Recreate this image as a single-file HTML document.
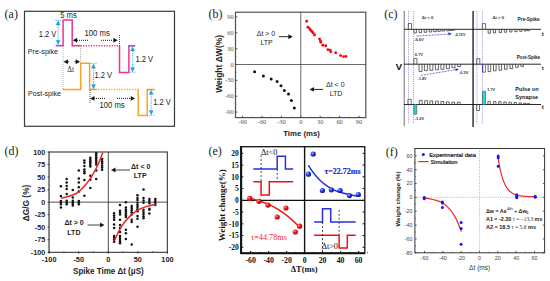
<!DOCTYPE html>
<html><head><meta charset="utf-8"><style>
html,body{margin:0;padding:0;background:#fff;}
body{width:550px;height:281px;overflow:hidden;font-family:"Liberation Sans",sans-serif;}
svg{display:block;}
</style></head><body>
<svg width="550" height="281" viewBox="0 0 550 281">
<rect width="550" height="281" fill="#fff"/>
<text x="4.60" y="17.50" font-family="Liberation Serif, serif" font-size="12" font-weight="normal" text-anchor="start" fill="#222" >(a)</text>
<rect x="24.50" y="11.30" width="150.00" height="115.00" stroke="#3a3a3a" stroke-width="1.2" fill="none"/>
<line x1="63.10" y1="46.00" x2="63.10" y2="90.00" stroke="#777" stroke-width="0.7" stroke-dasharray="0.8 1.2"/>
<line x1="80.50" y1="46.00" x2="80.50" y2="64.00" stroke="#777" stroke-width="0.7" stroke-dasharray="0.8 1.2"/>
<line x1="90.00" y1="90.00" x2="90.00" y2="104.00" stroke="#222" stroke-width="0.8" stroke-dasharray="1 1"/>
<line x1="119.50" y1="35.00" x2="119.50" y2="46.00" stroke="#222" stroke-width="0.8" stroke-dasharray="1 1"/>
<path d="M56,45.8 H63.1 V20 H72.2 V45.8 H80.5" stroke="#f3338b" stroke-width="1.5" fill="none" />
<line x1="80.50" y1="45.80" x2="119.50" y2="45.80" stroke="#f3338b" stroke-width="1.5" stroke-dasharray="1.3 1.3"/>
<path d="M119.5,45.8 V72.4 H128.9 V45.8 H135" stroke="#f3338b" stroke-width="1.5" fill="none" />
<path d="M62.5,89.4 H80.7 V63.2 H89.6 V89.4 H95.5" stroke="#fba424" stroke-width="1.5" fill="none" />
<line x1="95.50" y1="89.40" x2="138.20" y2="89.40" stroke="#fba424" stroke-width="1.5" stroke-dasharray="1.3 1.3"/>
<path d="M138.2,89.4 V115.5 H147.2 V89.4 H154.6" stroke="#fba424" stroke-width="1.5" fill="none" />
<line x1="58.10" y1="24.80" x2="58.10" y2="40.50" stroke="#1ba3e3" stroke-width="1.0" stroke-dasharray="1 1.2"/>
<path d="M55.9,25.1 L58.1,20.6 L60.300000000000004,25.1 Z" stroke="#1ba3e3" stroke-width="0.2" fill="#1ba3e3" />
<path d="M55.9,40.2 L58.1,44.7 L60.300000000000004,40.2 Z" stroke="#1ba3e3" stroke-width="0.2" fill="#1ba3e3" />
<line x1="54.10" y1="20.30" x2="61.10" y2="20.30" stroke="#1ba3e3" stroke-width="0.8" stroke-dasharray="1 1"/>
<line x1="54.10" y1="45.00" x2="61.10" y2="45.00" stroke="#1ba3e3" stroke-width="0.8" stroke-dasharray="1 1"/>
<line x1="93.50" y1="67.90" x2="93.50" y2="84.70" stroke="#1ba3e3" stroke-width="1.0" stroke-dasharray="1 1.2"/>
<path d="M91.3,68.2 L93.5,63.699999999999996 L95.7,68.2 Z" stroke="#1ba3e3" stroke-width="0.2" fill="#1ba3e3" />
<path d="M91.3,84.4 L93.5,88.9 L95.7,84.4 Z" stroke="#1ba3e3" stroke-width="0.2" fill="#1ba3e3" />
<line x1="89.50" y1="63.40" x2="96.50" y2="63.40" stroke="#1ba3e3" stroke-width="0.8" stroke-dasharray="1 1"/>
<line x1="89.50" y1="89.20" x2="96.50" y2="89.20" stroke="#1ba3e3" stroke-width="0.8" stroke-dasharray="1 1"/>
<line x1="132.60" y1="50.80" x2="132.60" y2="67.70" stroke="#1ba3e3" stroke-width="1.0" stroke-dasharray="1 1.2"/>
<path d="M130.4,51.099999999999994 L132.6,46.599999999999994 L134.79999999999998,51.099999999999994 Z" stroke="#1ba3e3" stroke-width="0.2" fill="#1ba3e3" />
<path d="M130.4,67.4 L132.6,71.9 L134.79999999999998,67.4 Z" stroke="#1ba3e3" stroke-width="0.2" fill="#1ba3e3" />
<line x1="128.60" y1="46.30" x2="135.60" y2="46.30" stroke="#1ba3e3" stroke-width="0.8" stroke-dasharray="1 1"/>
<line x1="128.60" y1="72.20" x2="135.60" y2="72.20" stroke="#1ba3e3" stroke-width="0.8" stroke-dasharray="1 1"/>
<line x1="151.20" y1="94.30" x2="151.20" y2="110.80" stroke="#1ba3e3" stroke-width="1.0" stroke-dasharray="1 1.2"/>
<path d="M149.0,94.6 L151.2,90.1 L153.39999999999998,94.6 Z" stroke="#1ba3e3" stroke-width="0.2" fill="#1ba3e3" />
<path d="M149.0,110.5 L151.2,115.0 L153.39999999999998,110.5 Z" stroke="#1ba3e3" stroke-width="0.2" fill="#1ba3e3" />
<line x1="147.20" y1="89.80" x2="154.20" y2="89.80" stroke="#1ba3e3" stroke-width="0.8" stroke-dasharray="1 1"/>
<line x1="147.20" y1="115.30" x2="154.20" y2="115.30" stroke="#1ba3e3" stroke-width="0.8" stroke-dasharray="1 1"/>
<path d="M73,40.3 L77,38.099999999999994 L77,42.5 Z" stroke="#111" stroke-width="0.2" fill="#111" />
<line x1="77.00" y1="40.30" x2="88.50" y2="40.30" stroke="#111" stroke-width="1" stroke-dasharray="1 1"/>
<line x1="101.00" y1="40.30" x2="113.50" y2="40.30" stroke="#111" stroke-width="1" stroke-dasharray="1 1"/>
<path d="M117.5,40.3 L113.5,38.099999999999994 L113.5,42.5 Z" stroke="#111" stroke-width="0.2" fill="#111" />
<path d="M90.3,98.4 L94.3,96.2 L94.3,100.60000000000001 Z" stroke="#111" stroke-width="0.2" fill="#111" />
<line x1="94.00" y1="98.40" x2="106.00" y2="98.40" stroke="#111" stroke-width="1" stroke-dasharray="1 1"/>
<line x1="117.00" y1="98.40" x2="131.00" y2="98.40" stroke="#111" stroke-width="1" stroke-dasharray="1 1"/>
<path d="M134.8,98.4 L130.8,96.2 L130.8,100.60000000000001 Z" stroke="#111" stroke-width="0.2" fill="#111" />
<path d="M63.8,61.8 L67.8,59.599999999999994 L67.8,64.0 Z" stroke="#111" stroke-width="0.2" fill="#111" />
<path d="M79.8,61.8 L75.8,59.599999999999994 L75.8,64.0 Z" stroke="#111" stroke-width="0.2" fill="#111" />
<line x1="67.00" y1="61.80" x2="69.00" y2="61.80" stroke="#111" stroke-width="0.8" />
<line x1="74.50" y1="61.80" x2="76.60" y2="61.80" stroke="#111" stroke-width="0.8" />
<text x="67.20" y="71.70" font-family="Liberation Serif, serif" font-size="7.3" font-weight="normal" text-anchor="start" fill="#222" >Δt</text>
<text x="60.20" y="18.30" font-family="Liberation Sans, sans-serif" font-size="8.4" font-weight="normal" text-anchor="start" fill="#222" textLength="16.6" lengthAdjust="spacingAndGlyphs">5 ms</text>
<text x="84.50" y="35.80" font-family="Liberation Sans, sans-serif" font-size="8.4" font-weight="normal" text-anchor="start" fill="#222" textLength="25.4" lengthAdjust="spacingAndGlyphs">100 ms</text>
<text x="99.60" y="107.80" font-family="Liberation Sans, sans-serif" font-size="8.4" font-weight="normal" text-anchor="start" fill="#222" textLength="25.0" lengthAdjust="spacingAndGlyphs">100 ms</text>
<text x="38.80" y="36.60" font-family="Liberation Sans, sans-serif" font-size="8.5" font-weight="normal" text-anchor="start" fill="#222" textLength="17.6" lengthAdjust="spacingAndGlyphs">1.2 V</text>
<text x="94.50" y="77.50" font-family="Liberation Sans, sans-serif" font-size="8.5" font-weight="normal" text-anchor="start" fill="#222" textLength="17.6" lengthAdjust="spacingAndGlyphs">1.2 V</text>
<text x="135.50" y="61.70" font-family="Liberation Sans, sans-serif" font-size="8.5" font-weight="normal" text-anchor="start" fill="#222" textLength="17.6" lengthAdjust="spacingAndGlyphs">1.2 V</text>
<text x="153.20" y="104.90" font-family="Liberation Sans, sans-serif" font-size="8.5" font-weight="normal" text-anchor="start" fill="#222" textLength="17.6" lengthAdjust="spacingAndGlyphs">1.2 V</text>
<text x="27.80" y="53.50" font-family="Liberation Sans, sans-serif" font-size="7.2" font-weight="normal" text-anchor="start" fill="#222" textLength="30.2" lengthAdjust="spacingAndGlyphs">Pre-spike</text>
<text x="28.00" y="95.80" font-family="Liberation Sans, sans-serif" font-size="7.2" font-weight="normal" text-anchor="start" fill="#222" textLength="33" lengthAdjust="spacingAndGlyphs">Post-spike</text>
<text x="208.40" y="17.50" font-family="Liberation Serif, serif" font-size="12" font-weight="normal" text-anchor="start" fill="#222" >(b)</text>
<rect x="235.50" y="12.20" width="130.30" height="105.40" stroke="#505050" stroke-width="1.2" fill="none"/>
<line x1="300.80" y1="12.20" x2="300.80" y2="117.60" stroke="#444" stroke-width="0.8" />
<line x1="235.50" y1="64.50" x2="365.80" y2="64.50" stroke="#444" stroke-width="0.8" />
<line x1="235.50" y1="112.05" x2="237.30" y2="112.05" stroke="#444" stroke-width="0.8" />
<text x="233.60" y="114.15" font-family="Liberation Serif, serif" font-size="6.3" font-weight="normal" text-anchor="end" fill="#555" >-90</text>
<line x1="235.50" y1="96.20" x2="237.30" y2="96.20" stroke="#444" stroke-width="0.8" />
<text x="233.60" y="98.30" font-family="Liberation Serif, serif" font-size="6.3" font-weight="normal" text-anchor="end" fill="#555" >-60</text>
<line x1="235.50" y1="80.35" x2="237.30" y2="80.35" stroke="#444" stroke-width="0.8" />
<text x="233.60" y="82.45" font-family="Liberation Serif, serif" font-size="6.3" font-weight="normal" text-anchor="end" fill="#555" >-30</text>
<line x1="235.50" y1="64.50" x2="237.30" y2="64.50" stroke="#444" stroke-width="0.8" />
<text x="233.60" y="66.60" font-family="Liberation Serif, serif" font-size="6.3" font-weight="normal" text-anchor="end" fill="#555" >0</text>
<line x1="235.50" y1="48.65" x2="237.30" y2="48.65" stroke="#444" stroke-width="0.8" />
<text x="233.60" y="50.75" font-family="Liberation Serif, serif" font-size="6.3" font-weight="normal" text-anchor="end" fill="#555" >30</text>
<line x1="235.50" y1="32.80" x2="237.30" y2="32.80" stroke="#444" stroke-width="0.8" />
<text x="233.60" y="34.90" font-family="Liberation Serif, serif" font-size="6.3" font-weight="normal" text-anchor="end" fill="#555" >60</text>
<line x1="235.50" y1="16.95" x2="237.30" y2="16.95" stroke="#444" stroke-width="0.8" />
<text x="233.60" y="19.05" font-family="Liberation Serif, serif" font-size="6.3" font-weight="normal" text-anchor="end" fill="#555" >90</text>
<line x1="235.50" y1="112.05" x2="236.50" y2="112.05" stroke="#444" stroke-width="0.6" />
<line x1="235.50" y1="104.12" x2="236.50" y2="104.12" stroke="#444" stroke-width="0.6" />
<line x1="235.50" y1="96.20" x2="236.50" y2="96.20" stroke="#444" stroke-width="0.6" />
<line x1="235.50" y1="88.28" x2="236.50" y2="88.28" stroke="#444" stroke-width="0.6" />
<line x1="235.50" y1="80.35" x2="236.50" y2="80.35" stroke="#444" stroke-width="0.6" />
<line x1="235.50" y1="72.42" x2="236.50" y2="72.42" stroke="#444" stroke-width="0.6" />
<line x1="235.50" y1="64.50" x2="236.50" y2="64.50" stroke="#444" stroke-width="0.6" />
<line x1="235.50" y1="56.58" x2="236.50" y2="56.58" stroke="#444" stroke-width="0.6" />
<line x1="235.50" y1="48.65" x2="236.50" y2="48.65" stroke="#444" stroke-width="0.6" />
<line x1="235.50" y1="40.73" x2="236.50" y2="40.73" stroke="#444" stroke-width="0.6" />
<line x1="235.50" y1="32.80" x2="236.50" y2="32.80" stroke="#444" stroke-width="0.6" />
<line x1="235.50" y1="24.88" x2="236.50" y2="24.88" stroke="#444" stroke-width="0.6" />
<line x1="235.50" y1="16.95" x2="236.50" y2="16.95" stroke="#444" stroke-width="0.6" />
<line x1="242.60" y1="117.60" x2="242.60" y2="115.80" stroke="#444" stroke-width="0.8" />
<text x="242.60" y="123.90" font-family="Liberation Serif, serif" font-size="6.3" font-weight="normal" text-anchor="middle" fill="#555" >-90</text>
<line x1="262.00" y1="117.60" x2="262.00" y2="115.80" stroke="#444" stroke-width="0.8" />
<text x="262.00" y="123.90" font-family="Liberation Serif, serif" font-size="6.3" font-weight="normal" text-anchor="middle" fill="#555" >-60</text>
<line x1="281.40" y1="117.60" x2="281.40" y2="115.80" stroke="#444" stroke-width="0.8" />
<text x="281.40" y="123.90" font-family="Liberation Serif, serif" font-size="6.3" font-weight="normal" text-anchor="middle" fill="#555" >-30</text>
<line x1="300.80" y1="117.60" x2="300.80" y2="115.80" stroke="#444" stroke-width="0.8" />
<text x="300.80" y="123.90" font-family="Liberation Serif, serif" font-size="6.3" font-weight="normal" text-anchor="middle" fill="#555" >0</text>
<line x1="320.20" y1="117.60" x2="320.20" y2="115.80" stroke="#444" stroke-width="0.8" />
<text x="320.20" y="123.90" font-family="Liberation Serif, serif" font-size="6.3" font-weight="normal" text-anchor="middle" fill="#555" >30</text>
<line x1="339.60" y1="117.60" x2="339.60" y2="115.80" stroke="#444" stroke-width="0.8" />
<text x="339.60" y="123.90" font-family="Liberation Serif, serif" font-size="6.3" font-weight="normal" text-anchor="middle" fill="#555" >60</text>
<line x1="359.00" y1="117.60" x2="359.00" y2="115.80" stroke="#444" stroke-width="0.8" />
<text x="359.00" y="123.90" font-family="Liberation Serif, serif" font-size="6.3" font-weight="normal" text-anchor="middle" fill="#555" >90</text>
<line x1="242.60" y1="117.60" x2="242.60" y2="116.60" stroke="#444" stroke-width="0.6" />
<line x1="252.30" y1="117.60" x2="252.30" y2="116.60" stroke="#444" stroke-width="0.6" />
<line x1="262.00" y1="117.60" x2="262.00" y2="116.60" stroke="#444" stroke-width="0.6" />
<line x1="271.70" y1="117.60" x2="271.70" y2="116.60" stroke="#444" stroke-width="0.6" />
<line x1="281.40" y1="117.60" x2="281.40" y2="116.60" stroke="#444" stroke-width="0.6" />
<line x1="291.10" y1="117.60" x2="291.10" y2="116.60" stroke="#444" stroke-width="0.6" />
<line x1="300.80" y1="117.60" x2="300.80" y2="116.60" stroke="#444" stroke-width="0.6" />
<line x1="310.50" y1="117.60" x2="310.50" y2="116.60" stroke="#444" stroke-width="0.6" />
<line x1="320.20" y1="117.60" x2="320.20" y2="116.60" stroke="#444" stroke-width="0.6" />
<line x1="329.90" y1="117.60" x2="329.90" y2="116.60" stroke="#444" stroke-width="0.6" />
<line x1="339.60" y1="117.60" x2="339.60" y2="116.60" stroke="#444" stroke-width="0.6" />
<line x1="349.30" y1="117.60" x2="349.30" y2="116.60" stroke="#444" stroke-width="0.6" />
<line x1="359.00" y1="117.60" x2="359.00" y2="116.60" stroke="#444" stroke-width="0.6" />
<text x="283.20" y="135.70" font-family="Liberation Sans, sans-serif" font-size="7.8" font-weight="bold" text-anchor="start" fill="#222" >Time (ms)</text>
<text x="0.00" y="0.00" font-family="Liberation Sans, sans-serif" font-size="8.5" font-weight="bold" text-anchor="middle" fill="#222" transform="translate(222.3,63.85) rotate(-90)">Weight ΔW(%)</text>
<circle cx="306.70" cy="21.20" r="1.45" fill="#f01010" />
<circle cx="307.90" cy="27.20" r="1.45" fill="#f01010" />
<circle cx="309.50" cy="28.60" r="1.45" fill="#f01010" />
<circle cx="310.70" cy="30.20" r="1.45" fill="#f01010" />
<circle cx="311.80" cy="31.50" r="1.45" fill="#f01010" />
<circle cx="313.20" cy="32.90" r="1.45" fill="#f01010" />
<circle cx="314.60" cy="35.00" r="1.45" fill="#f01010" />
<circle cx="319.50" cy="39.00" r="1.45" fill="#f01010" />
<circle cx="320.50" cy="41.00" r="1.45" fill="#f01010" />
<circle cx="320.80" cy="42.30" r="1.45" fill="#f01010" />
<circle cx="322.80" cy="45.20" r="1.45" fill="#f01010" />
<circle cx="325.70" cy="45.80" r="1.45" fill="#f01010" />
<circle cx="327.90" cy="49.70" r="1.45" fill="#f01010" />
<circle cx="330.20" cy="50.10" r="1.45" fill="#f01010" />
<circle cx="330.80" cy="51.70" r="1.45" fill="#f01010" />
<circle cx="335.70" cy="52.70" r="1.45" fill="#f01010" />
<circle cx="340.60" cy="55.60" r="1.45" fill="#f01010" />
<circle cx="343.60" cy="56.60" r="1.45" fill="#f01010" />
<circle cx="345.90" cy="56.40" r="1.45" fill="#f01010" />
<circle cx="254.60" cy="71.70" r="1.5" fill="#111" />
<circle cx="263.40" cy="76.00" r="1.5" fill="#111" />
<circle cx="271.20" cy="79.00" r="1.5" fill="#111" />
<circle cx="277.10" cy="81.50" r="1.5" fill="#111" />
<circle cx="281.00" cy="85.80" r="1.5" fill="#111" />
<circle cx="284.30" cy="90.40" r="1.5" fill="#111" />
<circle cx="288.50" cy="93.90" r="1.5" fill="#111" />
<circle cx="291.40" cy="100.50" r="1.5" fill="#111" />
<circle cx="294.30" cy="108.00" r="1.5" fill="#111" />
<text x="266.00" y="35.70" font-family="Liberation Sans, sans-serif" font-size="7" font-weight="normal" text-anchor="middle" fill="#222" >Δt &gt; 0</text>
<text x="266.60" y="44.80" font-family="Liberation Sans, sans-serif" font-size="7" font-weight="normal" text-anchor="middle" fill="#222" >LTP</text>
<line x1="279.00" y1="36.70" x2="290.00" y2="36.70" stroke="#111" stroke-width="0.9" />
<path d="M292.5,36.7 L288.5,34.5 L288.5,38.900000000000006 Z" stroke="#111" stroke-width="0.2" fill="#111" />
<text x="335.30" y="86.90" font-family="Liberation Sans, sans-serif" font-size="7" font-weight="normal" text-anchor="middle" fill="#222" >Δt &lt; 0</text>
<text x="336.00" y="96.30" font-family="Liberation Sans, sans-serif" font-size="7" font-weight="normal" text-anchor="middle" fill="#222" >LTD</text>
<line x1="312.50" y1="89.40" x2="323.00" y2="89.40" stroke="#111" stroke-width="0.9" />
<path d="M309.8,89.4 L313.8,87.2 L313.8,91.60000000000001 Z" stroke="#111" stroke-width="0.2" fill="#111" />
<text x="384.20" y="17.60" font-family="Liberation Serif, serif" font-size="12" font-weight="normal" text-anchor="start" fill="#222" >(c)</text>
<line x1="404.30" y1="10.70" x2="404.30" y2="126.30" stroke="#999" stroke-width="1.4" />
<line x1="473.10" y1="11.00" x2="473.10" y2="127.00" stroke="#555" stroke-width="1.8" />
<line x1="408.50" y1="11.00" x2="408.50" y2="123.50" stroke="#5a5ad8" stroke-width="0.7" stroke-dasharray="0.8 1"/>
<line x1="413.60" y1="11.00" x2="413.60" y2="123.50" stroke="#5a5ad8" stroke-width="0.7" stroke-dasharray="0.8 1"/>
<line x1="477.00" y1="11.00" x2="477.00" y2="123.50" stroke="#5a5ad8" stroke-width="0.7" stroke-dasharray="0.8 1"/>
<line x1="482.40" y1="11.00" x2="482.40" y2="123.50" stroke="#5a5ad8" stroke-width="0.7" stroke-dasharray="0.8 1"/>
<line x1="404.00" y1="29.30" x2="541.00" y2="29.30" stroke="#111" stroke-width="0.9" />
<line x1="404.00" y1="64.20" x2="541.00" y2="64.20" stroke="#111" stroke-width="0.9" />
<line x1="404.00" y1="104.50" x2="541.00" y2="104.50" stroke="#111" stroke-width="0.9" />
<text x="541.80" y="35.90" font-family="Liberation Sans, sans-serif" font-size="6.2" font-weight="bold" text-anchor="start" fill="#222" >t</text>
<text x="541.80" y="70.00" font-family="Liberation Sans, sans-serif" font-size="6.2" font-weight="bold" text-anchor="start" fill="#222" >t</text>
<text x="541.80" y="108.70" font-family="Liberation Sans, sans-serif" font-size="6.2" font-weight="bold" text-anchor="start" fill="#222" >t</text>
<text x="399.00" y="69.80" font-family="Liberation Sans, sans-serif" font-size="9.5" font-weight="bold" text-anchor="middle" fill="#111" >V</text>
<path d="M408.30,29.3 V23.50 H411.50 V29.3" stroke="#333" stroke-width="0.7" fill="none" />
<path d="M413.90,29.3 V32.90 H416.40 V29.3" stroke="#333" stroke-width="0.75" fill="none" />
<path d="M419.10,29.3 V32.60 H421.60 V29.3" stroke="#333" stroke-width="0.75" fill="none" />
<path d="M424.20,29.3 V32.30 H426.70 V29.3" stroke="#333" stroke-width="0.75" fill="none" />
<path d="M429.20,29.3 V32.00 H431.70 V29.3" stroke="#333" stroke-width="0.75" fill="none" />
<path d="M433.70,29.3 V31.70 H436.20 V29.3" stroke="#333" stroke-width="0.75" fill="none" />
<path d="M437.80,29.3 V31.40 H440.30 V29.3" stroke="#333" stroke-width="0.75" fill="none" />
<path d="M441.90,29.3 V31.10 H444.40 V29.3" stroke="#333" stroke-width="0.75" fill="none" />
<path d="M446.40,29.3 V30.80 H448.90 V29.3" stroke="#333" stroke-width="0.75" fill="none" />
<path d="M449.60,29.3 V30.50 H452.10 V29.3" stroke="#333" stroke-width="0.75" fill="none" />
<path d="M452.40,29.3 V30.20 H454.90 V29.3" stroke="#333" stroke-width="0.75" fill="none" />
<path d="M482.40,29.3 V23.60 H485.60 V29.3" stroke="#333" stroke-width="0.7" fill="none" />
<path d="M488.10,29.3 V33.20 H490.40 V29.3" stroke="#333" stroke-width="0.75" fill="none" />
<path d="M493.30,29.3 V32.89 H495.60 V29.3" stroke="#333" stroke-width="0.75" fill="none" />
<path d="M499.20,29.3 V32.58 H501.50 V29.3" stroke="#333" stroke-width="0.75" fill="none" />
<path d="M504.30,29.3 V32.26 H506.60 V29.3" stroke="#333" stroke-width="0.75" fill="none" />
<path d="M509.70,29.3 V31.95 H512.00 V29.3" stroke="#333" stroke-width="0.75" fill="none" />
<path d="M514.80,29.3 V31.64 H517.10 V29.3" stroke="#333" stroke-width="0.75" fill="none" />
<path d="M519.70,29.3 V31.32 H522.00 V29.3" stroke="#333" stroke-width="0.75" fill="none" />
<path d="M524.10,29.3 V31.01 H526.40 V29.3" stroke="#333" stroke-width="0.75" fill="none" />
<path d="M527.40,29.3 V30.70 H529.70 V29.3" stroke="#333" stroke-width="0.75" fill="none" />
<path d="M413.90,64.2 V58.40 H416.90 V64.2" stroke="#333" stroke-width="0.7" fill="none" />
<path d="M419.00,64.2 V71.40 H422.00 V64.2" stroke="#333" stroke-width="0.75" fill="none" />
<path d="M424.40,64.2 V70.60 H427.40 V64.2" stroke="#333" stroke-width="0.75" fill="none" />
<path d="M429.90,64.2 V70.30 H432.90 V64.2" stroke="#333" stroke-width="0.75" fill="none" />
<path d="M435.40,64.2 V69.80 H438.40 V64.2" stroke="#333" stroke-width="0.75" fill="none" />
<path d="M440.90,64.2 V69.30 H443.90 V64.2" stroke="#333" stroke-width="0.75" fill="none" />
<path d="M446.40,64.2 V68.70 H449.40 V64.2" stroke="#333" stroke-width="0.75" fill="none" />
<path d="M452.00,64.2 V67.70 H455.00 V64.2" stroke="#333" stroke-width="0.75" fill="none" />
<path d="M457.60,64.2 V66.60 H460.60 V64.2" stroke="#333" stroke-width="0.75" fill="none" />
<path d="M476.70,64.2 V58.60 H479.80 V64.2" stroke="#333" stroke-width="0.7" fill="none" />
<path d="M482.60,64.2 V72.20 H485.40 V64.2" stroke="#555" stroke-width="0.8" fill="none" />
<line x1="482.60" y1="64.20" x2="482.60" y2="72.20" stroke="#3a3ab0" stroke-width="1.0" />
<path d="M488.10,64.2 V71.60 H490.70 V64.2" stroke="#333" stroke-width="0.75" fill="none" />
<path d="M493.50,64.2 V70.80 H496.10 V64.2" stroke="#333" stroke-width="0.75" fill="none" />
<path d="M499.00,64.2 V70.30 H501.60 V64.2" stroke="#333" stroke-width="0.75" fill="none" />
<path d="M504.50,64.2 V69.20 H507.10 V64.2" stroke="#333" stroke-width="0.75" fill="none" />
<path d="M510.00,64.2 V68.60 H512.60 V64.2" stroke="#333" stroke-width="0.75" fill="none" />
<path d="M515.60,64.2 V67.30 H518.20 V64.2" stroke="#333" stroke-width="0.75" fill="none" />
<path d="M520.90,64.2 V66.40 H523.50 V64.2" stroke="#333" stroke-width="0.75" fill="none" />
<path d="M407.90,104.5 V99.40 H411.20 V104.5" stroke="#333" stroke-width="0.7" fill="none" />
<path d="M413.90,104.5 V114.30 H416.70 V104.5" stroke="#444" stroke-width="0.6" fill="#16e0e8" />
<path d="M419.30,104.5 V100.30 H422.10 V104.5" stroke="#333" stroke-width="0.75" fill="none" />
<path d="M424.70,104.5 V100.70 H427.50 V104.5" stroke="#333" stroke-width="0.75" fill="none" />
<path d="M429.90,104.5 V100.90 H432.70 V104.5" stroke="#333" stroke-width="0.75" fill="none" />
<path d="M435.50,104.5 V101.20 H438.30 V104.5" stroke="#333" stroke-width="0.75" fill="none" />
<path d="M440.90,104.5 V101.50 H443.70 V104.5" stroke="#333" stroke-width="0.75" fill="none" />
<path d="M446.40,104.5 V101.90 H449.20 V104.5" stroke="#333" stroke-width="0.75" fill="none" />
<path d="M451.80,104.5 V102.20 H454.60 V104.5" stroke="#333" stroke-width="0.75" fill="none" />
<path d="M457.30,104.5 V102.20 H460.10 V104.5" stroke="#333" stroke-width="0.75" fill="none" />
<path d="M476.60,104.5 V110.50 H479.50 V104.5" stroke="#333" stroke-width="0.7" fill="none" />
<path d="M482.50,104.5 V91.40 H485.50 V104.5" stroke="#444" stroke-width="0.6" fill="#16e0e8" />
<path d="M487.90,104.5 V101.30 H490.30 V104.5" stroke="#333" stroke-width="0.75" fill="none" />
<path d="M493.50,104.5 V101.50 H495.90 V104.5" stroke="#333" stroke-width="0.75" fill="none" />
<path d="M498.70,104.5 V101.70 H501.10 V104.5" stroke="#333" stroke-width="0.75" fill="none" />
<path d="M503.80,104.5 V102.00 H506.20 V104.5" stroke="#333" stroke-width="0.75" fill="none" />
<path d="M508.90,104.5 V102.30 H511.30 V104.5" stroke="#333" stroke-width="0.75" fill="none" />
<path d="M514.00,104.5 V102.50 H516.40 V104.5" stroke="#333" stroke-width="0.75" fill="none" />
<path d="M519.00,104.5 V102.90 H521.40 V104.5" stroke="#333" stroke-width="0.75" fill="none" />
<path d="M523.60,104.5 V103.30 H526.00 V104.5" stroke="#333" stroke-width="0.75" fill="none" />
<path d="M527.40,104.5 V103.60 H529.80 V104.5" stroke="#333" stroke-width="0.75" fill="none" />
<line x1="416.50" y1="36.10" x2="449.50" y2="34.00" stroke="#4646d2" stroke-width="0.75" stroke-dasharray="2 1"/>
<path d="M451.6,33.8 L448.4,32.6 L448.7,35.2 Z" stroke="#2020d0" stroke-width="0.2" fill="#2020d0" />
<line x1="420.80" y1="75.40" x2="456.50" y2="69.60" stroke="#4646d2" stroke-width="0.75" stroke-dasharray="2 1"/>
<path d="M458.6,69.2 L455.4,68.4 L455.9,71 Z" stroke="#2020d0" stroke-width="0.2" fill="#2020d0" />
<text x="421.80" y="19.45" font-family="Liberation Sans, sans-serif" font-size="4.2" font-weight="bold" text-anchor="start" fill="#333" >Δt &lt; 0</text>
<text x="492.50" y="19.25" font-family="Liberation Sans, sans-serif" font-size="4.2" font-weight="bold" text-anchor="start" fill="#333" >Δt &gt; 0</text>
<text x="414.20" y="41.25" font-family="Liberation Sans, sans-serif" font-size="4.0" font-weight="bold" text-anchor="start" fill="#333" >-6.6V</text>
<text x="454.50" y="35.95" font-family="Liberation Sans, sans-serif" font-size="3.7" font-weight="bold" text-anchor="start" fill="#333" >-0.15V</text>
<text x="414.80" y="55.55" font-family="Liberation Sans, sans-serif" font-size="4.0" font-weight="bold" text-anchor="start" fill="#333" >0.7V</text>
<text x="417.70" y="79.55" font-family="Liberation Sans, sans-serif" font-size="3.7" font-weight="bold" text-anchor="start" fill="#333" >-1.8V</text>
<text x="458.90" y="73.65" font-family="Liberation Sans, sans-serif" font-size="4.0" font-weight="bold" text-anchor="start" fill="#333" >-0.3V</text>
<text x="487.20" y="91.25" font-family="Liberation Sans, sans-serif" font-size="3.9" font-weight="bold" text-anchor="start" fill="#333" >1.7V</text>
<text x="414.70" y="120.05" font-family="Liberation Sans, sans-serif" font-size="4.0" font-weight="bold" text-anchor="start" fill="#333" >-1.2V</text>
<text x="528.60" y="21.00" font-family="Liberation Sans, sans-serif" font-size="5.3" font-weight="bold" text-anchor="middle" fill="#222" textLength="22" lengthAdjust="spacingAndGlyphs">Pre-Spike</text>
<text x="528.40" y="58.50" font-family="Liberation Sans, sans-serif" font-size="5.3" font-weight="bold" text-anchor="middle" fill="#222" textLength="23.5" lengthAdjust="spacingAndGlyphs">Post-Spike</text>
<text x="527.00" y="91.40" font-family="Liberation Sans, sans-serif" font-size="5.6" font-weight="bold" text-anchor="middle" fill="#222" >Pulse on</text>
<text x="526.70" y="98.60" font-family="Liberation Sans, sans-serif" font-size="5.6" font-weight="bold" text-anchor="middle" fill="#222" >Synapse</text>
<text x="4.40" y="155.20" font-family="Liberation Serif, serif" font-size="12" font-weight="normal" text-anchor="start" fill="#222" >(d)</text>
<rect x="49.00" y="152.00" width="118.30" height="100.30" stroke="#222" stroke-width="1" fill="none"/>
<line x1="108.30" y1="152.00" x2="108.30" y2="252.30" stroke="#222" stroke-width="0.8" />
<line x1="49.00" y1="202.15" x2="167.30" y2="202.15" stroke="#222" stroke-width="0.8" />
<line x1="47.50" y1="252.30" x2="49.00" y2="252.30" stroke="#222" stroke-width="0.8" />
<text x="45.20" y="254.85" font-family="Liberation Sans, sans-serif" font-size="7.2" font-weight="bold" text-anchor="end" fill="#222" >-100</text>
<line x1="47.50" y1="239.76" x2="49.00" y2="239.76" stroke="#222" stroke-width="0.8" />
<text x="45.20" y="242.31" font-family="Liberation Sans, sans-serif" font-size="7.2" font-weight="bold" text-anchor="end" fill="#222" >-75</text>
<line x1="47.50" y1="227.22" x2="49.00" y2="227.22" stroke="#222" stroke-width="0.8" />
<text x="45.20" y="229.78" font-family="Liberation Sans, sans-serif" font-size="7.2" font-weight="bold" text-anchor="end" fill="#222" >-50</text>
<line x1="47.50" y1="214.69" x2="49.00" y2="214.69" stroke="#222" stroke-width="0.8" />
<text x="45.20" y="217.24" font-family="Liberation Sans, sans-serif" font-size="7.2" font-weight="bold" text-anchor="end" fill="#222" >-25</text>
<line x1="47.50" y1="202.15" x2="49.00" y2="202.15" stroke="#222" stroke-width="0.8" />
<text x="45.20" y="204.70" font-family="Liberation Sans, sans-serif" font-size="7.2" font-weight="bold" text-anchor="end" fill="#222" >0</text>
<line x1="47.50" y1="189.61" x2="49.00" y2="189.61" stroke="#222" stroke-width="0.8" />
<text x="45.20" y="192.16" font-family="Liberation Sans, sans-serif" font-size="7.2" font-weight="bold" text-anchor="end" fill="#222" >25</text>
<line x1="47.50" y1="177.08" x2="49.00" y2="177.08" stroke="#222" stroke-width="0.8" />
<text x="45.20" y="179.63" font-family="Liberation Sans, sans-serif" font-size="7.2" font-weight="bold" text-anchor="end" fill="#222" >50</text>
<line x1="47.50" y1="164.54" x2="49.00" y2="164.54" stroke="#222" stroke-width="0.8" />
<text x="45.20" y="167.09" font-family="Liberation Sans, sans-serif" font-size="7.2" font-weight="bold" text-anchor="end" fill="#222" >75</text>
<line x1="47.50" y1="152.00" x2="49.00" y2="152.00" stroke="#222" stroke-width="0.8" />
<text x="45.20" y="154.55" font-family="Liberation Sans, sans-serif" font-size="7.2" font-weight="bold" text-anchor="end" fill="#222" >100</text>
<line x1="49.00" y1="252.30" x2="49.90" y2="252.30" stroke="#222" stroke-width="0.5" />
<line x1="49.00" y1="249.79" x2="49.90" y2="249.79" stroke="#222" stroke-width="0.5" />
<line x1="49.00" y1="247.28" x2="49.90" y2="247.28" stroke="#222" stroke-width="0.5" />
<line x1="49.00" y1="244.78" x2="49.90" y2="244.78" stroke="#222" stroke-width="0.5" />
<line x1="49.00" y1="242.27" x2="49.90" y2="242.27" stroke="#222" stroke-width="0.5" />
<line x1="49.00" y1="239.76" x2="49.90" y2="239.76" stroke="#222" stroke-width="0.5" />
<line x1="49.00" y1="237.25" x2="49.90" y2="237.25" stroke="#222" stroke-width="0.5" />
<line x1="49.00" y1="234.75" x2="49.90" y2="234.75" stroke="#222" stroke-width="0.5" />
<line x1="49.00" y1="232.24" x2="49.90" y2="232.24" stroke="#222" stroke-width="0.5" />
<line x1="49.00" y1="229.73" x2="49.90" y2="229.73" stroke="#222" stroke-width="0.5" />
<line x1="49.00" y1="227.22" x2="49.90" y2="227.22" stroke="#222" stroke-width="0.5" />
<line x1="49.00" y1="224.72" x2="49.90" y2="224.72" stroke="#222" stroke-width="0.5" />
<line x1="49.00" y1="222.21" x2="49.90" y2="222.21" stroke="#222" stroke-width="0.5" />
<line x1="49.00" y1="219.70" x2="49.90" y2="219.70" stroke="#222" stroke-width="0.5" />
<line x1="49.00" y1="217.19" x2="49.90" y2="217.19" stroke="#222" stroke-width="0.5" />
<line x1="49.00" y1="214.69" x2="49.90" y2="214.69" stroke="#222" stroke-width="0.5" />
<line x1="49.00" y1="212.18" x2="49.90" y2="212.18" stroke="#222" stroke-width="0.5" />
<line x1="49.00" y1="209.67" x2="49.90" y2="209.67" stroke="#222" stroke-width="0.5" />
<line x1="49.00" y1="207.16" x2="49.90" y2="207.16" stroke="#222" stroke-width="0.5" />
<line x1="49.00" y1="204.66" x2="49.90" y2="204.66" stroke="#222" stroke-width="0.5" />
<line x1="49.00" y1="202.15" x2="49.90" y2="202.15" stroke="#222" stroke-width="0.5" />
<line x1="49.00" y1="199.64" x2="49.90" y2="199.64" stroke="#222" stroke-width="0.5" />
<line x1="49.00" y1="197.14" x2="49.90" y2="197.14" stroke="#222" stroke-width="0.5" />
<line x1="49.00" y1="194.63" x2="49.90" y2="194.63" stroke="#222" stroke-width="0.5" />
<line x1="49.00" y1="192.12" x2="49.90" y2="192.12" stroke="#222" stroke-width="0.5" />
<line x1="49.00" y1="189.61" x2="49.90" y2="189.61" stroke="#222" stroke-width="0.5" />
<line x1="49.00" y1="187.11" x2="49.90" y2="187.11" stroke="#222" stroke-width="0.5" />
<line x1="49.00" y1="184.60" x2="49.90" y2="184.60" stroke="#222" stroke-width="0.5" />
<line x1="49.00" y1="182.09" x2="49.90" y2="182.09" stroke="#222" stroke-width="0.5" />
<line x1="49.00" y1="179.58" x2="49.90" y2="179.58" stroke="#222" stroke-width="0.5" />
<line x1="49.00" y1="177.08" x2="49.90" y2="177.08" stroke="#222" stroke-width="0.5" />
<line x1="49.00" y1="174.57" x2="49.90" y2="174.57" stroke="#222" stroke-width="0.5" />
<line x1="49.00" y1="172.06" x2="49.90" y2="172.06" stroke="#222" stroke-width="0.5" />
<line x1="49.00" y1="169.55" x2="49.90" y2="169.55" stroke="#222" stroke-width="0.5" />
<line x1="49.00" y1="167.05" x2="49.90" y2="167.05" stroke="#222" stroke-width="0.5" />
<line x1="49.00" y1="164.54" x2="49.90" y2="164.54" stroke="#222" stroke-width="0.5" />
<line x1="49.00" y1="162.03" x2="49.90" y2="162.03" stroke="#222" stroke-width="0.5" />
<line x1="49.00" y1="159.52" x2="49.90" y2="159.52" stroke="#222" stroke-width="0.5" />
<line x1="49.00" y1="157.02" x2="49.90" y2="157.02" stroke="#222" stroke-width="0.5" />
<line x1="49.00" y1="154.51" x2="49.90" y2="154.51" stroke="#222" stroke-width="0.5" />
<line x1="49.00" y1="152.00" x2="49.90" y2="152.00" stroke="#222" stroke-width="0.5" />
<line x1="49.15" y1="252.30" x2="49.15" y2="253.80" stroke="#222" stroke-width="0.8" />
<text x="49.15" y="262.00" font-family="Liberation Sans, sans-serif" font-size="7.3" font-weight="bold" text-anchor="middle" fill="#222" >-100</text>
<line x1="78.72" y1="252.30" x2="78.72" y2="253.80" stroke="#222" stroke-width="0.8" />
<text x="78.72" y="262.00" font-family="Liberation Sans, sans-serif" font-size="7.3" font-weight="bold" text-anchor="middle" fill="#222" >-50</text>
<line x1="108.30" y1="252.30" x2="108.30" y2="253.80" stroke="#222" stroke-width="0.8" />
<text x="108.30" y="262.00" font-family="Liberation Sans, sans-serif" font-size="7.3" font-weight="bold" text-anchor="middle" fill="#222" >0</text>
<line x1="137.88" y1="252.30" x2="137.88" y2="253.80" stroke="#222" stroke-width="0.8" />
<text x="137.88" y="262.00" font-family="Liberation Sans, sans-serif" font-size="7.3" font-weight="bold" text-anchor="middle" fill="#222" >50</text>
<line x1="167.45" y1="252.30" x2="167.45" y2="253.80" stroke="#222" stroke-width="0.8" />
<text x="167.45" y="262.00" font-family="Liberation Sans, sans-serif" font-size="7.3" font-weight="bold" text-anchor="middle" fill="#222" >100</text>
<line x1="49.15" y1="252.30" x2="49.15" y2="251.10" stroke="#222" stroke-width="0.6" />
<line x1="63.94" y1="252.30" x2="63.94" y2="251.10" stroke="#222" stroke-width="0.6" />
<line x1="78.72" y1="252.30" x2="78.72" y2="251.10" stroke="#222" stroke-width="0.6" />
<line x1="93.51" y1="252.30" x2="93.51" y2="251.10" stroke="#222" stroke-width="0.6" />
<line x1="108.30" y1="252.30" x2="108.30" y2="251.10" stroke="#222" stroke-width="0.6" />
<line x1="123.09" y1="252.30" x2="123.09" y2="251.10" stroke="#222" stroke-width="0.6" />
<line x1="137.88" y1="252.30" x2="137.88" y2="251.10" stroke="#222" stroke-width="0.6" />
<line x1="152.66" y1="252.30" x2="152.66" y2="251.10" stroke="#222" stroke-width="0.6" />
<line x1="167.45" y1="252.30" x2="167.45" y2="251.10" stroke="#222" stroke-width="0.6" />
<text x="73.10" y="274.40" font-family="Liberation Sans, sans-serif" font-size="8.2" font-weight="bold" text-anchor="start" fill="#222" textLength="70.6" lengthAdjust="spacingAndGlyphs">Spike Time Δt (μS)</text>
<text x="0.00" y="0.00" font-family="Liberation Sans, sans-serif" font-size="8.4" font-weight="bold" text-anchor="middle" fill="#222" transform="translate(29.0,203.0) rotate(-90)">ΔG/G (%)</text>
<circle cx="60.90" cy="186.20" r="1.25" fill="#111" />
<circle cx="60.90" cy="196.10" r="1.25" fill="#111" />
<circle cx="60.90" cy="201.00" r="1.25" fill="#111" />
<circle cx="60.90" cy="202.60" r="1.25" fill="#111" />
<circle cx="60.90" cy="204.20" r="1.25" fill="#111" />
<circle cx="60.90" cy="207.40" r="1.25" fill="#111" />
<circle cx="66.70" cy="179.10" r="1.25" fill="#111" />
<circle cx="66.70" cy="182.50" r="1.25" fill="#111" />
<circle cx="66.70" cy="185.90" r="1.25" fill="#111" />
<circle cx="66.70" cy="189.10" r="1.25" fill="#111" />
<circle cx="66.70" cy="194.00" r="1.25" fill="#111" />
<circle cx="66.70" cy="200.80" r="1.25" fill="#111" />
<circle cx="66.70" cy="202.50" r="1.25" fill="#111" />
<circle cx="66.70" cy="204.20" r="1.25" fill="#111" />
<circle cx="72.80" cy="189.90" r="1.25" fill="#111" />
<circle cx="72.80" cy="197.50" r="1.25" fill="#111" />
<circle cx="72.80" cy="200.80" r="1.25" fill="#111" />
<circle cx="72.80" cy="202.40" r="1.25" fill="#111" />
<circle cx="72.80" cy="204.00" r="1.25" fill="#111" />
<circle cx="72.80" cy="205.50" r="1.25" fill="#111" />
<circle cx="78.80" cy="170.50" r="1.25" fill="#111" />
<circle cx="78.80" cy="178.60" r="1.25" fill="#111" />
<circle cx="78.80" cy="182.60" r="1.25" fill="#111" />
<circle cx="78.80" cy="187.20" r="1.25" fill="#111" />
<circle cx="78.80" cy="191.50" r="1.25" fill="#111" />
<circle cx="78.80" cy="201.00" r="1.25" fill="#111" />
<circle cx="78.80" cy="202.60" r="1.25" fill="#111" />
<circle cx="78.80" cy="204.20" r="1.25" fill="#111" />
<circle cx="84.40" cy="160.50" r="1.25" fill="#111" />
<circle cx="84.40" cy="162.70" r="1.25" fill="#111" />
<circle cx="84.40" cy="165.90" r="1.25" fill="#111" />
<circle cx="84.40" cy="169.60" r="1.25" fill="#111" />
<circle cx="84.40" cy="171.40" r="1.25" fill="#111" />
<circle cx="84.40" cy="173.30" r="1.25" fill="#111" />
<circle cx="84.40" cy="180.10" r="1.25" fill="#111" />
<circle cx="84.40" cy="195.80" r="1.25" fill="#111" />
<circle cx="90.30" cy="157.70" r="1.25" fill="#111" />
<circle cx="90.30" cy="159.50" r="1.25" fill="#111" />
<circle cx="90.30" cy="161.30" r="1.25" fill="#111" />
<circle cx="90.30" cy="163.10" r="1.25" fill="#111" />
<circle cx="90.30" cy="164.90" r="1.25" fill="#111" />
<circle cx="90.30" cy="166.50" r="1.25" fill="#111" />
<circle cx="90.30" cy="175.80" r="1.25" fill="#111" />
<circle cx="90.30" cy="179.70" r="1.25" fill="#111" />
<circle cx="90.30" cy="188.00" r="1.25" fill="#111" />
<circle cx="96.20" cy="153.20" r="1.25" fill="#111" />
<circle cx="96.20" cy="155.20" r="1.25" fill="#111" />
<circle cx="96.20" cy="157.20" r="1.25" fill="#111" />
<circle cx="96.20" cy="159.10" r="1.25" fill="#111" />
<circle cx="96.20" cy="160.70" r="1.25" fill="#111" />
<circle cx="96.20" cy="162.50" r="1.25" fill="#111" />
<circle cx="96.20" cy="164.40" r="1.25" fill="#111" />
<circle cx="96.20" cy="170.50" r="1.25" fill="#111" />
<circle cx="96.20" cy="179.00" r="1.25" fill="#111" />
<circle cx="102.10" cy="159.10" r="1.25" fill="#111" />
<circle cx="102.10" cy="161.20" r="1.25" fill="#111" />
<circle cx="102.10" cy="163.30" r="1.25" fill="#111" />
<circle cx="102.10" cy="165.40" r="1.25" fill="#111" />
<circle cx="102.10" cy="167.50" r="1.25" fill="#111" />
<circle cx="102.10" cy="169.70" r="1.25" fill="#111" />
<circle cx="114.10" cy="213.30" r="1.25" fill="#111" />
<circle cx="114.10" cy="215.40" r="1.25" fill="#111" />
<circle cx="114.10" cy="217.60" r="1.25" fill="#111" />
<circle cx="114.10" cy="219.70" r="1.25" fill="#111" />
<circle cx="114.10" cy="224.50" r="1.25" fill="#111" />
<circle cx="114.10" cy="228.00" r="1.25" fill="#111" />
<circle cx="114.10" cy="235.90" r="1.25" fill="#111" />
<circle cx="114.10" cy="237.80" r="1.25" fill="#111" />
<circle cx="114.10" cy="239.80" r="1.25" fill="#111" />
<circle cx="114.10" cy="241.70" r="1.25" fill="#111" />
<circle cx="120.00" cy="205.10" r="1.25" fill="#111" />
<circle cx="120.00" cy="210.70" r="1.25" fill="#111" />
<circle cx="120.00" cy="212.60" r="1.25" fill="#111" />
<circle cx="120.00" cy="214.40" r="1.25" fill="#111" />
<circle cx="120.00" cy="219.70" r="1.25" fill="#111" />
<circle cx="120.00" cy="225.10" r="1.25" fill="#111" />
<circle cx="120.00" cy="228.00" r="1.25" fill="#111" />
<circle cx="120.00" cy="232.10" r="1.25" fill="#111" />
<circle cx="120.00" cy="235.90" r="1.25" fill="#111" />
<circle cx="120.00" cy="237.80" r="1.25" fill="#111" />
<circle cx="120.00" cy="239.70" r="1.25" fill="#111" />
<circle cx="120.00" cy="241.60" r="1.25" fill="#111" />
<circle cx="120.00" cy="243.30" r="1.25" fill="#111" />
<circle cx="125.90" cy="202.30" r="1.25" fill="#111" />
<circle cx="125.90" cy="207.50" r="1.25" fill="#111" />
<circle cx="125.90" cy="209.40" r="1.25" fill="#111" />
<circle cx="125.90" cy="211.30" r="1.25" fill="#111" />
<circle cx="125.90" cy="213.30" r="1.25" fill="#111" />
<circle cx="125.90" cy="215.20" r="1.25" fill="#111" />
<circle cx="125.90" cy="217.10" r="1.25" fill="#111" />
<circle cx="125.90" cy="229.70" r="1.25" fill="#111" />
<circle cx="125.90" cy="233.20" r="1.25" fill="#111" />
<circle cx="125.90" cy="239.10" r="1.25" fill="#111" />
<circle cx="131.70" cy="205.90" r="1.25" fill="#111" />
<circle cx="131.70" cy="208.00" r="1.25" fill="#111" />
<circle cx="131.70" cy="210.10" r="1.25" fill="#111" />
<circle cx="131.70" cy="212.30" r="1.25" fill="#111" />
<circle cx="131.70" cy="214.40" r="1.25" fill="#111" />
<circle cx="131.70" cy="219.70" r="1.25" fill="#111" />
<circle cx="131.70" cy="221.90" r="1.25" fill="#111" />
<circle cx="131.70" cy="244.60" r="1.25" fill="#111" />
<circle cx="137.50" cy="195.30" r="1.25" fill="#111" />
<circle cx="137.50" cy="198.00" r="1.25" fill="#111" />
<circle cx="137.50" cy="200.10" r="1.25" fill="#111" />
<circle cx="137.50" cy="202.80" r="1.25" fill="#111" />
<circle cx="137.50" cy="204.90" r="1.25" fill="#111" />
<circle cx="137.50" cy="207.00" r="1.25" fill="#111" />
<circle cx="137.50" cy="209.20" r="1.25" fill="#111" />
<circle cx="137.50" cy="211.30" r="1.25" fill="#111" />
<circle cx="137.50" cy="216.10" r="1.25" fill="#111" />
<circle cx="137.50" cy="218.80" r="1.25" fill="#111" />
<circle cx="137.50" cy="226.70" r="1.25" fill="#111" />
<circle cx="143.50" cy="189.50" r="1.25" fill="#111" />
<circle cx="143.50" cy="198.00" r="1.25" fill="#111" />
<circle cx="143.50" cy="200.40" r="1.25" fill="#111" />
<circle cx="143.50" cy="202.80" r="1.25" fill="#111" />
<circle cx="143.50" cy="209.70" r="1.25" fill="#111" />
<circle cx="143.50" cy="211.90" r="1.25" fill="#111" />
<circle cx="143.50" cy="214.00" r="1.25" fill="#111" />
<circle cx="143.50" cy="216.20" r="1.25" fill="#111" />
<circle cx="143.50" cy="218.30" r="1.25" fill="#111" />
<circle cx="149.40" cy="199.00" r="1.25" fill="#111" />
<circle cx="149.40" cy="201.10" r="1.25" fill="#111" />
<circle cx="149.40" cy="203.30" r="1.25" fill="#111" />
<circle cx="149.40" cy="208.70" r="1.25" fill="#111" />
<circle cx="149.40" cy="209.70" r="1.25" fill="#111" />
<circle cx="149.40" cy="213.50" r="1.25" fill="#111" />
<circle cx="155.30" cy="199.00" r="1.25" fill="#111" />
<circle cx="155.30" cy="201.00" r="1.25" fill="#111" />
<circle cx="155.30" cy="203.00" r="1.25" fill="#111" />
<circle cx="155.30" cy="205.00" r="1.25" fill="#111" />
<path d="M60.90,198.30 C62.77,197.80 69.13,196.38 72.10,195.30 C75.07,194.22 76.55,193.45 78.70,191.80 C80.85,190.15 83.07,187.58 85.00,185.40 C86.93,183.22 88.45,181.52 90.30,178.70 C92.15,175.88 94.58,171.42 96.10,168.50 C97.62,165.58 98.28,163.85 99.40,161.20 C100.52,158.55 102.23,154.03 102.80,152.60" stroke="#ee2222" stroke-width="1.5" fill="none" />
<path d="M114.10,241.20 C115.00,239.33 117.77,233.15 119.50,230.00 C121.23,226.85 122.67,224.70 124.50,222.30 C126.33,219.90 128.37,217.60 130.50,215.60 C132.63,213.60 134.72,211.80 137.30,210.30 C139.88,208.80 142.92,207.58 146.00,206.60 C149.08,205.62 154.17,204.77 155.80,204.40" stroke="#ee2222" stroke-width="1.5" fill="none" />
<text x="140.70" y="168.50" font-family="Liberation Sans, sans-serif" font-size="7" font-weight="bold" text-anchor="middle" fill="#222" >Δt &lt; 0</text>
<text x="140.20" y="178.20" font-family="Liberation Sans, sans-serif" font-size="7" font-weight="bold" text-anchor="middle" fill="#222" >LTP</text>
<line x1="113.00" y1="170.00" x2="130.00" y2="170.00" stroke="#111" stroke-width="0.8" />
<path d="M111.3,170 L115.3,167.8 L115.3,172.2 Z" stroke="#111" stroke-width="0.2" fill="#111" />
<text x="74.10" y="225.40" font-family="Liberation Sans, sans-serif" font-size="7" font-weight="bold" text-anchor="middle" fill="#222" >Δt &gt; 0</text>
<text x="73.90" y="235.20" font-family="Liberation Sans, sans-serif" font-size="7" font-weight="bold" text-anchor="middle" fill="#222" >LTD</text>
<line x1="87.60" y1="225.00" x2="101.00" y2="225.00" stroke="#111" stroke-width="0.8" />
<path d="M104.2,225 L100.2,222.8 L100.2,227.2 Z" stroke="#111" stroke-width="0.2" fill="#111" />
<text x="208.40" y="155.00" font-family="Liberation Serif, serif" font-size="12" font-weight="normal" text-anchor="start" fill="#222" >(e)</text>
<rect x="241.10" y="146.70" width="123.70" height="106.50" stroke="#111" stroke-width="1.3" fill="none"/>
<line x1="241.10" y1="146.10" x2="241.10" y2="253.80" stroke="#111" stroke-width="2" />
<line x1="240.50" y1="253.20" x2="364.80" y2="253.20" stroke="#111" stroke-width="2" />
<line x1="304.60" y1="146.70" x2="304.60" y2="253.20" stroke="#111" stroke-width="1.4" />
<line x1="241.10" y1="200.30" x2="364.80" y2="200.30" stroke="#111" stroke-width="1.2" />
<line x1="241.10" y1="247.30" x2="243.30" y2="247.30" stroke="#111" stroke-width="1" />
<line x1="364.80" y1="247.30" x2="362.60" y2="247.30" stroke="#111" stroke-width="1" />
<text x="238.80" y="250.00" font-family="Liberation Serif, serif" font-size="7.6" font-weight="bold" text-anchor="end" fill="#111" >-20</text>
<line x1="241.10" y1="235.55" x2="243.30" y2="235.55" stroke="#111" stroke-width="1" />
<line x1="364.80" y1="235.55" x2="362.60" y2="235.55" stroke="#111" stroke-width="1" />
<text x="238.80" y="238.25" font-family="Liberation Serif, serif" font-size="7.6" font-weight="bold" text-anchor="end" fill="#111" >-15</text>
<line x1="241.10" y1="223.80" x2="243.30" y2="223.80" stroke="#111" stroke-width="1" />
<line x1="364.80" y1="223.80" x2="362.60" y2="223.80" stroke="#111" stroke-width="1" />
<text x="238.80" y="226.50" font-family="Liberation Serif, serif" font-size="7.6" font-weight="bold" text-anchor="end" fill="#111" >-10</text>
<line x1="241.10" y1="212.05" x2="243.30" y2="212.05" stroke="#111" stroke-width="1" />
<line x1="364.80" y1="212.05" x2="362.60" y2="212.05" stroke="#111" stroke-width="1" />
<text x="238.80" y="214.75" font-family="Liberation Serif, serif" font-size="7.6" font-weight="bold" text-anchor="end" fill="#111" >-5</text>
<line x1="241.10" y1="200.30" x2="243.30" y2="200.30" stroke="#111" stroke-width="1" />
<line x1="364.80" y1="200.30" x2="362.60" y2="200.30" stroke="#111" stroke-width="1" />
<text x="238.80" y="203.00" font-family="Liberation Serif, serif" font-size="7.6" font-weight="bold" text-anchor="end" fill="#111" >0</text>
<line x1="241.10" y1="188.55" x2="243.30" y2="188.55" stroke="#111" stroke-width="1" />
<line x1="364.80" y1="188.55" x2="362.60" y2="188.55" stroke="#111" stroke-width="1" />
<text x="238.80" y="191.25" font-family="Liberation Serif, serif" font-size="7.6" font-weight="bold" text-anchor="end" fill="#111" >5</text>
<line x1="241.10" y1="176.80" x2="243.30" y2="176.80" stroke="#111" stroke-width="1" />
<line x1="364.80" y1="176.80" x2="362.60" y2="176.80" stroke="#111" stroke-width="1" />
<text x="238.80" y="179.50" font-family="Liberation Serif, serif" font-size="7.6" font-weight="bold" text-anchor="end" fill="#111" >10</text>
<line x1="241.10" y1="165.05" x2="243.30" y2="165.05" stroke="#111" stroke-width="1" />
<line x1="364.80" y1="165.05" x2="362.60" y2="165.05" stroke="#111" stroke-width="1" />
<text x="238.80" y="167.75" font-family="Liberation Serif, serif" font-size="7.6" font-weight="bold" text-anchor="end" fill="#111" >15</text>
<line x1="241.10" y1="153.30" x2="243.30" y2="153.30" stroke="#111" stroke-width="1" />
<line x1="364.80" y1="153.30" x2="362.60" y2="153.30" stroke="#111" stroke-width="1" />
<text x="238.80" y="156.00" font-family="Liberation Serif, serif" font-size="7.6" font-weight="bold" text-anchor="end" fill="#111" >20</text>
<line x1="241.10" y1="244.95" x2="242.30" y2="244.95" stroke="#111" stroke-width="0.6" />
<line x1="241.10" y1="242.60" x2="242.30" y2="242.60" stroke="#111" stroke-width="0.6" />
<line x1="241.10" y1="240.25" x2="242.30" y2="240.25" stroke="#111" stroke-width="0.6" />
<line x1="241.10" y1="237.90" x2="242.30" y2="237.90" stroke="#111" stroke-width="0.6" />
<line x1="241.10" y1="233.20" x2="242.30" y2="233.20" stroke="#111" stroke-width="0.6" />
<line x1="241.10" y1="230.85" x2="242.30" y2="230.85" stroke="#111" stroke-width="0.6" />
<line x1="241.10" y1="228.50" x2="242.30" y2="228.50" stroke="#111" stroke-width="0.6" />
<line x1="241.10" y1="226.15" x2="242.30" y2="226.15" stroke="#111" stroke-width="0.6" />
<line x1="241.10" y1="221.45" x2="242.30" y2="221.45" stroke="#111" stroke-width="0.6" />
<line x1="241.10" y1="219.10" x2="242.30" y2="219.10" stroke="#111" stroke-width="0.6" />
<line x1="241.10" y1="216.75" x2="242.30" y2="216.75" stroke="#111" stroke-width="0.6" />
<line x1="241.10" y1="214.40" x2="242.30" y2="214.40" stroke="#111" stroke-width="0.6" />
<line x1="241.10" y1="209.70" x2="242.30" y2="209.70" stroke="#111" stroke-width="0.6" />
<line x1="241.10" y1="207.35" x2="242.30" y2="207.35" stroke="#111" stroke-width="0.6" />
<line x1="241.10" y1="205.00" x2="242.30" y2="205.00" stroke="#111" stroke-width="0.6" />
<line x1="241.10" y1="202.65" x2="242.30" y2="202.65" stroke="#111" stroke-width="0.6" />
<line x1="241.10" y1="197.95" x2="242.30" y2="197.95" stroke="#111" stroke-width="0.6" />
<line x1="241.10" y1="195.60" x2="242.30" y2="195.60" stroke="#111" stroke-width="0.6" />
<line x1="241.10" y1="193.25" x2="242.30" y2="193.25" stroke="#111" stroke-width="0.6" />
<line x1="241.10" y1="190.90" x2="242.30" y2="190.90" stroke="#111" stroke-width="0.6" />
<line x1="241.10" y1="186.20" x2="242.30" y2="186.20" stroke="#111" stroke-width="0.6" />
<line x1="241.10" y1="183.85" x2="242.30" y2="183.85" stroke="#111" stroke-width="0.6" />
<line x1="241.10" y1="181.50" x2="242.30" y2="181.50" stroke="#111" stroke-width="0.6" />
<line x1="241.10" y1="179.15" x2="242.30" y2="179.15" stroke="#111" stroke-width="0.6" />
<line x1="241.10" y1="174.45" x2="242.30" y2="174.45" stroke="#111" stroke-width="0.6" />
<line x1="241.10" y1="172.10" x2="242.30" y2="172.10" stroke="#111" stroke-width="0.6" />
<line x1="241.10" y1="169.75" x2="242.30" y2="169.75" stroke="#111" stroke-width="0.6" />
<line x1="241.10" y1="167.40" x2="242.30" y2="167.40" stroke="#111" stroke-width="0.6" />
<line x1="241.10" y1="162.70" x2="242.30" y2="162.70" stroke="#111" stroke-width="0.6" />
<line x1="241.10" y1="160.35" x2="242.30" y2="160.35" stroke="#111" stroke-width="0.6" />
<line x1="241.10" y1="158.00" x2="242.30" y2="158.00" stroke="#111" stroke-width="0.6" />
<line x1="241.10" y1="155.65" x2="242.30" y2="155.65" stroke="#111" stroke-width="0.6" />
<line x1="250.60" y1="253.20" x2="250.60" y2="251.00" stroke="#111" stroke-width="1" />
<text x="250.60" y="263.40" font-family="Liberation Serif, serif" font-size="7.8" font-weight="bold" text-anchor="middle" fill="#111" >-60</text>
<line x1="268.60" y1="253.20" x2="268.60" y2="251.00" stroke="#111" stroke-width="1" />
<text x="268.60" y="263.40" font-family="Liberation Serif, serif" font-size="7.8" font-weight="bold" text-anchor="middle" fill="#111" >-40</text>
<line x1="286.60" y1="253.20" x2="286.60" y2="251.00" stroke="#111" stroke-width="1" />
<text x="286.60" y="263.40" font-family="Liberation Serif, serif" font-size="7.8" font-weight="bold" text-anchor="middle" fill="#111" >-20</text>
<line x1="304.60" y1="253.20" x2="304.60" y2="251.00" stroke="#111" stroke-width="1" />
<text x="304.60" y="263.40" font-family="Liberation Serif, serif" font-size="7.8" font-weight="bold" text-anchor="middle" fill="#111" >0</text>
<line x1="322.60" y1="253.20" x2="322.60" y2="251.00" stroke="#111" stroke-width="1" />
<text x="322.60" y="263.40" font-family="Liberation Serif, serif" font-size="7.8" font-weight="bold" text-anchor="middle" fill="#111" >20</text>
<line x1="340.60" y1="253.20" x2="340.60" y2="251.00" stroke="#111" stroke-width="1" />
<text x="340.60" y="263.40" font-family="Liberation Serif, serif" font-size="7.8" font-weight="bold" text-anchor="middle" fill="#111" >40</text>
<line x1="358.60" y1="253.20" x2="358.60" y2="251.00" stroke="#111" stroke-width="1" />
<text x="358.60" y="263.40" font-family="Liberation Serif, serif" font-size="7.8" font-weight="bold" text-anchor="middle" fill="#111" >60</text>
<line x1="241.60" y1="253.20" x2="241.60" y2="251.90" stroke="#111" stroke-width="0.7" />
<line x1="259.60" y1="253.20" x2="259.60" y2="251.90" stroke="#111" stroke-width="0.7" />
<line x1="277.60" y1="253.20" x2="277.60" y2="251.90" stroke="#111" stroke-width="0.7" />
<line x1="295.60" y1="253.20" x2="295.60" y2="251.90" stroke="#111" stroke-width="0.7" />
<line x1="313.60" y1="253.20" x2="313.60" y2="251.90" stroke="#111" stroke-width="0.7" />
<line x1="331.60" y1="253.20" x2="331.60" y2="251.90" stroke="#111" stroke-width="0.7" />
<line x1="349.60" y1="253.20" x2="349.60" y2="251.90" stroke="#111" stroke-width="0.7" />
<line x1="367.60" y1="253.20" x2="367.60" y2="251.90" stroke="#111" stroke-width="0.7" />
<text x="304.20" y="271.50" font-family="Liberation Serif, serif" font-size="8.4" font-weight="bold" text-anchor="middle" fill="#111" >ΔT(ms)</text>
<text x="0.00" y="0.00" font-family="Liberation Serif, serif" font-size="8.2" font-weight="bold" text-anchor="middle" fill="#111" transform="translate(224.6,205.3) rotate(-90)" textLength="72" lengthAdjust="spacingAndGlyphs">Weight change(%)</text>
<path d="M253.3,169 H277.2 V156.3 H285.4 V169 H293.2" stroke="#2233dd" stroke-width="1.5" fill="none" />
<path d="M253.3,181.8 H261.1 V194.9 H269.3 V181.8 H293.2" stroke="#ee1111" stroke-width="1.5" fill="none" />
<line x1="261.10" y1="155.00" x2="261.10" y2="181.00" stroke="#222" stroke-width="0.8" stroke-dasharray="2 2"/>
<line x1="277.20" y1="169.00" x2="277.20" y2="181.00" stroke="#222" stroke-width="0.8" stroke-dasharray="2 2"/>
<text x="261.00" y="154.80" font-family="Liberation Serif, serif" font-size="8.2" font-weight="normal" text-anchor="start" fill="#111" textLength="16.4" lengthAdjust="spacingAndGlyphs">Δt&lt;0</text>
<path d="M314.1,221.9 H322.5 V208.8 H330.7 V221.9 H355.7" stroke="#2233dd" stroke-width="1.5" fill="none" />
<path d="M314.1,235.2 H339.1 V247.9 H347.3 V235.2 H355.7" stroke="#ee1111" stroke-width="1.5" fill="none" />
<line x1="322.50" y1="222.00" x2="322.50" y2="252.00" stroke="#222" stroke-width="0.8" stroke-dasharray="2 2"/>
<line x1="339.10" y1="209.80" x2="339.10" y2="235.00" stroke="#222" stroke-width="0.8" stroke-dasharray="2 2"/>
<text x="321.70" y="249.00" font-family="Liberation Serif, serif" font-size="8.2" font-weight="normal" text-anchor="start" fill="#111" textLength="16.2" lengthAdjust="spacingAndGlyphs">Δt&gt;0</text>
<defs>
<radialGradient id="gr" cx="0.35" cy="0.35" r="0.7"><stop offset="0" stop-color="#ff9a9a"/><stop offset="0.45" stop-color="#f01818"/><stop offset="1" stop-color="#b00000"/></radialGradient>
<radialGradient id="gb" cx="0.35" cy="0.35" r="0.7"><stop offset="0" stop-color="#a8b4ff"/><stop offset="0.45" stop-color="#2438e8"/><stop offset="1" stop-color="#0a1490"/></radialGradient>
</defs>
<path d="M249.8,198.6 Q277,203 299.8,227.4" stroke="#ee1111" stroke-width="1.5" fill="none" />
<path d="M308.4,165.3 Q322,188 342.7,193 T359,195.2" stroke="#2233dd" stroke-width="1.5" fill="none" />
<circle cx="249.80" cy="198.40" r="2.6" fill="url(#gr)" />
<circle cx="259.00" cy="201.30" r="2.6" fill="url(#gr)" />
<circle cx="268.00" cy="205.10" r="2.6" fill="url(#gr)" />
<circle cx="277.20" cy="217.00" r="2.6" fill="url(#gr)" />
<circle cx="286.00" cy="208.00" r="2.6" fill="url(#gr)" />
<circle cx="295.30" cy="232.00" r="2.6" fill="url(#gr)" />
<circle cx="299.60" cy="226.20" r="2.6" fill="url(#gr)" />
<circle cx="313.20" cy="154.00" r="2.6" fill="url(#gb)" />
<circle cx="308.50" cy="174.20" r="2.6" fill="url(#gb)" />
<circle cx="322.40" cy="190.50" r="2.6" fill="url(#gb)" />
<circle cx="331.40" cy="189.80" r="2.6" fill="url(#gb)" />
<circle cx="340.10" cy="190.50" r="2.6" fill="url(#gb)" />
<circle cx="349.50" cy="195.60" r="2.6" fill="url(#gb)" />
<circle cx="358.30" cy="194.50" r="2.6" fill="url(#gb)" />
<text x="268.90" y="239.50" font-family="Liberation Serif, serif" font-size="8.2" font-weight="normal" text-anchor="middle" fill="#ff1e1e" >τ=44.78ms</text>
<text x="342.60" y="173.80" font-family="Liberation Serif, serif" font-size="8.0" font-weight="bold" text-anchor="middle" fill="#2424c8" stroke="#2424c8" stroke-width="0.15">τ=22.72ms</text>
<text x="385.80" y="155.50" font-family="Liberation Serif, serif" font-size="12" font-weight="normal" text-anchor="start" fill="#222" >(f)</text>
<rect x="414.90" y="148.50" width="129.70" height="104.30" stroke="#333" stroke-width="1" fill="none"/>
<line x1="479.50" y1="148.50" x2="479.50" y2="252.80" stroke="#999" stroke-width="0.7" stroke-dasharray="1 1.3"/>
<line x1="414.90" y1="197.40" x2="544.60" y2="197.40" stroke="#999" stroke-width="0.7" stroke-dasharray="1 1.3"/>
<line x1="414.90" y1="252.80" x2="416.70" y2="252.80" stroke="#333" stroke-width="0.8" />
<line x1="544.60" y1="252.80" x2="542.80" y2="252.80" stroke="#333" stroke-width="0.8" />
<text x="412.60" y="254.70" font-family="Liberation Sans, sans-serif" font-size="5.4" font-weight="normal" text-anchor="end" fill="#444" >-80</text>
<line x1="414.90" y1="238.95" x2="416.70" y2="238.95" stroke="#333" stroke-width="0.8" />
<line x1="544.60" y1="238.95" x2="542.80" y2="238.95" stroke="#333" stroke-width="0.8" />
<text x="412.60" y="240.85" font-family="Liberation Sans, sans-serif" font-size="5.4" font-weight="normal" text-anchor="end" fill="#444" >-60</text>
<line x1="414.90" y1="225.10" x2="416.70" y2="225.10" stroke="#333" stroke-width="0.8" />
<line x1="544.60" y1="225.10" x2="542.80" y2="225.10" stroke="#333" stroke-width="0.8" />
<text x="412.60" y="227.00" font-family="Liberation Sans, sans-serif" font-size="5.4" font-weight="normal" text-anchor="end" fill="#444" >-40</text>
<line x1="414.90" y1="211.25" x2="416.70" y2="211.25" stroke="#333" stroke-width="0.8" />
<line x1="544.60" y1="211.25" x2="542.80" y2="211.25" stroke="#333" stroke-width="0.8" />
<text x="412.60" y="213.15" font-family="Liberation Sans, sans-serif" font-size="5.4" font-weight="normal" text-anchor="end" fill="#444" >-20</text>
<line x1="414.90" y1="197.40" x2="416.70" y2="197.40" stroke="#333" stroke-width="0.8" />
<line x1="544.60" y1="197.40" x2="542.80" y2="197.40" stroke="#333" stroke-width="0.8" />
<text x="412.60" y="199.30" font-family="Liberation Sans, sans-serif" font-size="5.4" font-weight="normal" text-anchor="end" fill="#444" >0</text>
<line x1="414.90" y1="183.55" x2="416.70" y2="183.55" stroke="#333" stroke-width="0.8" />
<line x1="544.60" y1="183.55" x2="542.80" y2="183.55" stroke="#333" stroke-width="0.8" />
<text x="412.60" y="185.45" font-family="Liberation Sans, sans-serif" font-size="5.4" font-weight="normal" text-anchor="end" fill="#444" >20</text>
<line x1="414.90" y1="169.70" x2="416.70" y2="169.70" stroke="#333" stroke-width="0.8" />
<line x1="544.60" y1="169.70" x2="542.80" y2="169.70" stroke="#333" stroke-width="0.8" />
<text x="412.60" y="171.60" font-family="Liberation Sans, sans-serif" font-size="5.4" font-weight="normal" text-anchor="end" fill="#444" >40</text>
<line x1="414.90" y1="155.85" x2="416.70" y2="155.85" stroke="#333" stroke-width="0.8" />
<line x1="544.60" y1="155.85" x2="542.80" y2="155.85" stroke="#333" stroke-width="0.8" />
<text x="412.60" y="157.75" font-family="Liberation Sans, sans-serif" font-size="5.4" font-weight="normal" text-anchor="end" fill="#444" >60</text>
<line x1="414.90" y1="245.88" x2="415.90" y2="245.88" stroke="#333" stroke-width="0.6" />
<line x1="414.90" y1="232.03" x2="415.90" y2="232.03" stroke="#333" stroke-width="0.6" />
<line x1="414.90" y1="218.18" x2="415.90" y2="218.18" stroke="#333" stroke-width="0.6" />
<line x1="414.90" y1="204.33" x2="415.90" y2="204.33" stroke="#333" stroke-width="0.6" />
<line x1="414.90" y1="190.47" x2="415.90" y2="190.47" stroke="#333" stroke-width="0.6" />
<line x1="414.90" y1="176.62" x2="415.90" y2="176.62" stroke="#333" stroke-width="0.6" />
<line x1="414.90" y1="162.78" x2="415.90" y2="162.78" stroke="#333" stroke-width="0.6" />
<line x1="424.50" y1="252.80" x2="424.50" y2="251.00" stroke="#333" stroke-width="0.8" />
<text x="424.50" y="260.30" font-family="Liberation Sans, sans-serif" font-size="5.4" font-weight="normal" text-anchor="middle" fill="#444" >-60</text>
<line x1="442.83" y1="252.80" x2="442.83" y2="251.00" stroke="#333" stroke-width="0.8" />
<text x="442.83" y="260.30" font-family="Liberation Sans, sans-serif" font-size="5.4" font-weight="normal" text-anchor="middle" fill="#444" >-40</text>
<line x1="461.17" y1="252.80" x2="461.17" y2="251.00" stroke="#333" stroke-width="0.8" />
<text x="461.17" y="260.30" font-family="Liberation Sans, sans-serif" font-size="5.4" font-weight="normal" text-anchor="middle" fill="#444" >-20</text>
<line x1="479.50" y1="252.80" x2="479.50" y2="251.00" stroke="#333" stroke-width="0.8" />
<text x="479.50" y="260.30" font-family="Liberation Sans, sans-serif" font-size="5.4" font-weight="normal" text-anchor="middle" fill="#444" >0</text>
<line x1="497.83" y1="252.80" x2="497.83" y2="251.00" stroke="#333" stroke-width="0.8" />
<text x="497.83" y="260.30" font-family="Liberation Sans, sans-serif" font-size="5.4" font-weight="normal" text-anchor="middle" fill="#444" >20</text>
<line x1="516.17" y1="252.80" x2="516.17" y2="251.00" stroke="#333" stroke-width="0.8" />
<text x="516.17" y="260.30" font-family="Liberation Sans, sans-serif" font-size="5.4" font-weight="normal" text-anchor="middle" fill="#444" >40</text>
<line x1="534.50" y1="252.80" x2="534.50" y2="251.00" stroke="#333" stroke-width="0.8" />
<text x="534.50" y="260.30" font-family="Liberation Sans, sans-serif" font-size="5.4" font-weight="normal" text-anchor="middle" fill="#444" >60</text>
<line x1="415.33" y1="252.80" x2="415.33" y2="251.80" stroke="#333" stroke-width="0.6" />
<line x1="433.67" y1="252.80" x2="433.67" y2="251.80" stroke="#333" stroke-width="0.6" />
<line x1="452.00" y1="252.80" x2="452.00" y2="251.80" stroke="#333" stroke-width="0.6" />
<line x1="470.33" y1="252.80" x2="470.33" y2="251.80" stroke="#333" stroke-width="0.6" />
<line x1="488.67" y1="252.80" x2="488.67" y2="251.80" stroke="#333" stroke-width="0.6" />
<line x1="507.00" y1="252.80" x2="507.00" y2="251.80" stroke="#333" stroke-width="0.6" />
<line x1="525.34" y1="252.80" x2="525.34" y2="251.80" stroke="#333" stroke-width="0.6" />
<line x1="543.67" y1="252.80" x2="543.67" y2="251.80" stroke="#333" stroke-width="0.6" />
<text x="479.70" y="270.20" font-family="Liberation Sans, sans-serif" font-size="6.6" font-weight="normal" text-anchor="middle" fill="#333" >Δt (ms)</text>
<text x="0.00" y="0.00" font-family="Liberation Sans, sans-serif" font-size="6.2" font-weight="bold" text-anchor="middle" fill="#222" transform="translate(400.2,199.0) rotate(-90)">Weight change (%)</text>
<circle cx="423.30" cy="154.40" r="1.5" fill="#1a1aee" />
<text x="429.20" y="156.90" font-family="Liberation Sans, sans-serif" font-size="5.8" font-weight="normal" text-anchor="start" fill="#111" stroke="#111" stroke-width="0.18">Experimental data</text>
<line x1="418.20" y1="161.60" x2="428.60" y2="161.60" stroke="#ee2a2a" stroke-width="1.2" />
<text x="430.50" y="163.70" font-family="Liberation Sans, sans-serif" font-size="5.8" font-weight="normal" text-anchor="start" fill="#111" stroke="#111" stroke-width="0.18">Simulation</text>
<path d="M424.20,197.80 C425.67,198.08 429.97,198.68 433.00,199.50 C436.03,200.32 439.58,201.05 442.40,202.70 C445.22,204.35 447.65,206.78 449.90,209.40 C452.15,212.02 453.98,214.70 455.90,218.40 C457.82,222.10 460.48,229.40 461.40,231.60" stroke="#ee2a2a" stroke-width="1.2" fill="none" />
<path d="M498.10,158.00 L499.05,163.67 L500.00,168.52 L500.95,172.66 L501.89,176.19 L502.84,179.20 L503.79,181.78 L504.74,183.97 L505.69,185.85 L506.64,187.45 L507.59,188.82 L508.54,189.99 L509.48,190.98 L510.43,191.83 L511.38,192.56 L512.33,193.18 L513.28,193.71 L514.23,194.16 L515.18,194.55 L516.13,194.88 L517.07,195.16 L518.02,195.40 L518.97,195.60 L519.92,195.78 L520.87,195.93 L521.82,196.06 L522.77,196.16 L523.72,196.26 L524.66,196.34 L525.61,196.40 L526.56,196.46 L527.51,196.51 L528.46,196.55 L529.41,196.59 L530.36,196.62 L531.31,196.65 L532.25,196.67 L533.20,196.69 L534.15,196.70 L535.10,196.72" stroke="#ee2a2a" stroke-width="1.2" fill="none" />
<circle cx="424.20" cy="197.50" r="1.5" fill="#1a1aee" />
<circle cx="424.20" cy="198.70" r="1.5" fill="#1a1aee" />
<circle cx="442.40" cy="202.00" r="1.5" fill="#1a1aee" />
<circle cx="442.40" cy="203.00" r="1.5" fill="#1a1aee" />
<circle cx="442.40" cy="207.40" r="1.5" fill="#1a1aee" />
<circle cx="461.10" cy="222.40" r="1.5" fill="#1a1aee" />
<circle cx="461.10" cy="228.60" r="1.5" fill="#1a1aee" />
<circle cx="461.10" cy="244.30" r="1.5" fill="#1a1aee" />
<circle cx="498.20" cy="155.90" r="1.5" fill="#1a1aee" />
<circle cx="498.20" cy="157.70" r="1.5" fill="#1a1aee" />
<circle cx="498.20" cy="166.30" r="1.5" fill="#1a1aee" />
<circle cx="516.70" cy="194.70" r="1.5" fill="#1a1aee" />
<circle cx="516.70" cy="196.30" r="1.5" fill="#1a1aee" />
<circle cx="516.70" cy="197.70" r="1.5" fill="#1a1aee" />
<circle cx="535.20" cy="196.30" r="1.5" fill="#1a1aee" />
<circle cx="535.20" cy="197.30" r="1.5" fill="#1a1aee" />
<text x="486.00" y="212.70" font-family="Liberation Sans, sans-serif" font-size="5.6" font-weight="bold" text-anchor="start" fill="#222" textLength="42.4" lengthAdjust="spacingAndGlyphs">Δw = Ae<tspan font-size="3" dy="-2.5">-Δt/τ</tspan><tspan dy="2.5"> + Δw</tspan><tspan font-size="3.5" dy="1.2">0</tspan></text>
<text x="486.00" y="221.20" font-family="Liberation Sans, sans-serif" font-size="5.6" font-weight="bold" text-anchor="start" fill="#222" textLength="56.4" lengthAdjust="spacingAndGlyphs">A1 = -2.30 <tspan font-family="Liberation Serif, serif" font-weight="normal">τ = −13.3</tspan> ms</text>
<text x="486.00" y="228.70" font-family="Liberation Sans, sans-serif" font-size="5.6" font-weight="bold" text-anchor="start" fill="#222" textLength="50" lengthAdjust="spacingAndGlyphs">A2 = 18.5  <tspan font-family="Liberation Serif, serif" font-weight="normal">τ = 5.6</tspan> ms</text>
</svg>
</body></html>
